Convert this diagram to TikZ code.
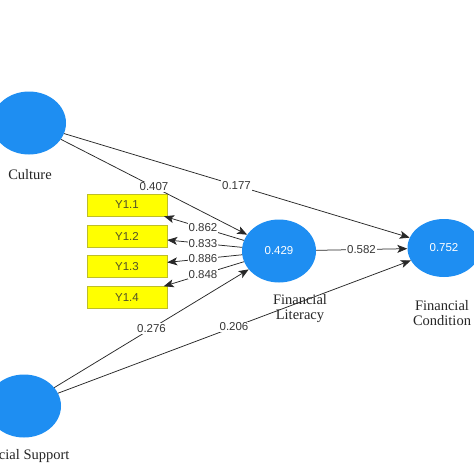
\documentclass[tikz,border=0pt]{standalone}
\usepackage{fontspec}
\setmainfont{Liberation Serif}
\setsansfont{Liberation Sans}
\usetikzlibrary{shapes.geometric,arrows.meta,calc}
\definecolor{lvblue}{RGB}{30,142,242}
\definecolor{indfill}{RGB}{255,255,0}
\definecolor{inddraw}{RGB}{190,190,40}
\definecolor{indtext}{RGB}{80,80,40}
\definecolor{edgecol}{RGB}{40,40,40}
\definecolor{labcol}{RGB}{55,55,55}
\tikzset{
  lv/.style={ellipse, fill=lvblue, draw=none, minimum width=74pt, minimum height=63pt, inner sep=0pt,
    text=white, font=\sffamily\fontsize{11.5}{12}\selectfont},
  ind/.style={rectangle, fill=indfill, draw=inddraw, line width=0.5pt, minimum width=80pt, minimum height=22pt,
    inner sep=0pt, text=indtext, font=\sffamily\fontsize{11.5}{12}\selectfont},
  conn/.style={draw=edgecol, line width=0.75pt, -{Stealth[length=10pt,width=8pt,inset=2.5pt]}},
  elab/.style={fill=white, inner sep=1pt, text=labcol, font=\sffamily\fontsize{11.5}{12}\selectfont},
  lvname/.style={align=center, text=black!85, font=\fontsize{14.5}{15.5}\selectfont}
}
\begin{document}
\begin{tikzpicture}[x=1pt,y=-1pt]
\clip (0,0) rectangle (474,474);
\fill[white] (0,0) rectangle (474,474);

% latent variables
\node[lv] (cul) at (29,123) {};
\node[lv] (fs) at (24,406) {};
\node[lv] (fl) at (279,251) {0.429};
\node[lv, minimum width=73pt, minimum height=58pt] (fc) at (444,248) {0.752};

% indicators
\node[ind] (y1) at (127,205) {Y1.1};
\node[ind] (y2) at (127,236) {Y1.2};
\node[ind] (y3) at (127,266.5) {Y1.3};
\node[ind] (y4) at (127,297.5) {Y1.4};

% names
\node[lvname] (culn) at (30,175) {Culture};
\node[lvname] (fln) at (300,308.5) {Financial\\Literacy};
\node[lvname] (fcn) at (442,313) {Financial\\Condition};
\node[lvname, anchor=east] (fsn) at (73,456) {Financial Support};

% connectors
\draw[conn] (cul) -- (fl);
\draw[conn] (cul) -- (fc);
\draw[conn] (fl) -- (y1);
\draw[conn] (fl) -- (y2);
\draw[conn] (fl) -- (y3);
\draw[conn] (fl) -- (y4);
\draw[conn] (fl) -- (fc);
\draw[conn] (fs) -- (fl);
\draw[conn] (fs) -- (fc);

% labels
\node[elab] (l1) at ($(cul)!0.5!(fl)$) {0.407};
\node[elab] (l2) at ($(cul)!0.5!(fc)$) {0.177};
\node[elab] (l3) at ($(fl)!0.5!(y1)$) {0.862};
\node[elab] (l4) at ($(fl)!0.5!(y2)$) {0.833};
\node[elab] (l5) at ($(fl)!0.5!(y3)$) {0.886};
\node[elab] (l6) at ($(fl)!0.5!(y4)$) {0.848};
\node[elab] (l7) at ($(fl)!0.5!(fc)$) {0.582};
\node[elab] (l8) at ($(fs)!0.5!(fl)$) {0.276};
\node[elab] (l9) at ($(fs)!0.5!(fc)$) {0.206};
\end{tikzpicture}
\end{document}
